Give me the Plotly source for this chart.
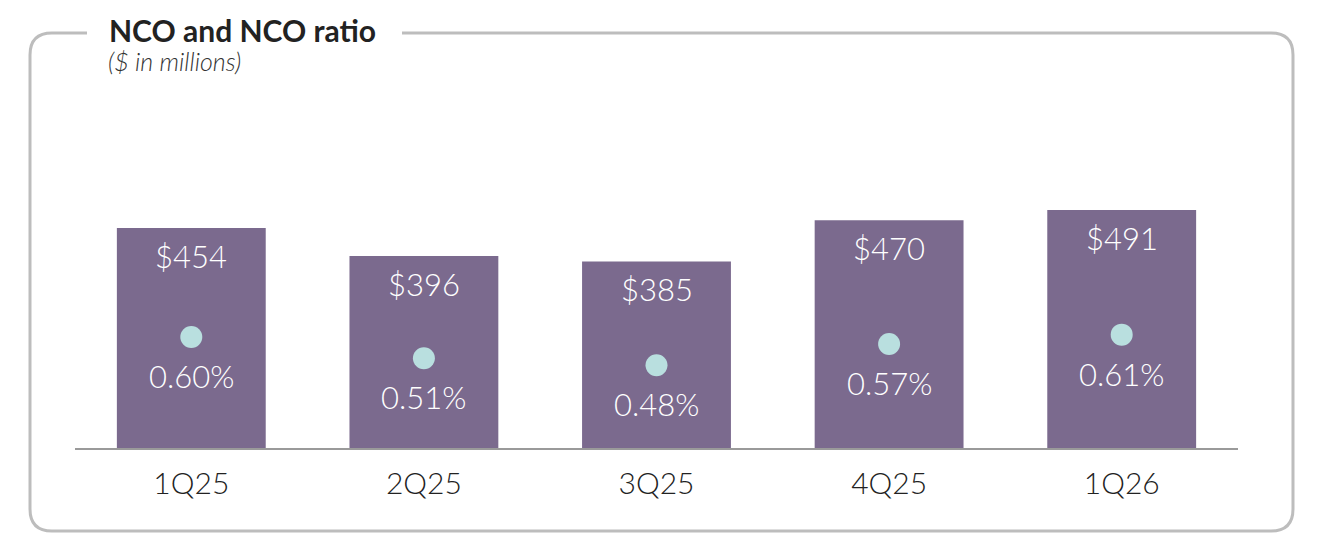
import plotly.graph_objects as go

quarters = ["1Q25", "2Q25", "3Q25", "4Q25", "1Q26"]
nco = [454, 396, 385, 470, 491]
nco_ratio = [0.60, 0.51, 0.48, 0.57, 0.61]

W, H = 1324, 556
L, R, T, B = 75, 86, 40, 108
PW, PH = W - L - R, H - T - B

BAR = "#7B6A8E"
DOT = "#B9DFDF"

def px(x):
    return (x - L) / PW

def py(y):
    return (H - B - y) / PH

fig = go.Figure()
fig.add_trace(go.Bar(x=quarters, y=nco, marker=dict(color=BAR, line=dict(width=0)),
                     hoverinfo="skip", showlegend=False))
fig.add_trace(go.Scatter(x=quarters, y=nco_ratio, yaxis="y2", mode="markers",
                         marker=dict(color=DOT, size=22), hoverinfo="skip", showlegend=False))

annotations = []
for q, v in zip(quarters, nco):
    annotations.append(dict(x=q, y=v, xref="x", yref="y", text=f"${v}", showarrow=False,
                            yshift=-28, font=dict(family="Lato", size=31, color="white", weight=300)))
for q, v in zip(quarters, nco_ratio):
    annotations.append(dict(x=q, y=v, xref="x", yref="y2", text=f"{v:.2f}%", showarrow=False,
                            yshift=-39, font=dict(family="Lato", size=31, color="white", weight=300)))

annotations.append(dict(x=px(107), y=py(30), xref="paper", yref="paper", xanchor="left", yanchor="middle",
                        text="<b>NCO and NCO ratio</b>", showarrow=False,
                        font=dict(family="Lato", size=30, color="#222222")))
annotations.append(dict(x=px(106), y=py(61), xref="paper", yref="paper", xanchor="left", yanchor="middle",
                        text="<i>($ in millions)</i>", showarrow=False,
                        font=dict(family="Lato", size=25, color="#333333", weight=300)))

# frame with gap for title
r = 22
x0, x1, y0, y1 = 30, 1293, 33, 531
pts = [
    ("M", 87, y0), ("L", x0 + r, y0), ("Q", x0, y0, x0, y0 + r), ("L", x0, y1 - r),
    ("Q", x0, y1, x0 + r, y1), ("L", x1 - r, y1), ("Q", x1, y1, x1, y1 - r),
    ("L", x1, y0 + r), ("Q", x1, y0, x1 - r, y0), ("L", 402, y0),
]
path = ""
for p in pts:
    cmd = p[0]
    coords = p[1:]
    s = []
    for i in range(0, len(coords), 2):
        s.append(f"{px(coords[i]):.5f},{py(coords[i+1]):.5f}")
    path += cmd + " " + " ".join(s) + " "

shapes = [dict(type="path", path=path.strip(), xref="paper", yref="paper",
               line=dict(color="#BDBDBD", width=3), layer="below")]

y_scale = 0.4846  # px per unit
y2_scale = 236.0
y2_min = 0.60 - (448 - 337) / y2_scale

fig.update_layout(
    width=W, height=H,
    margin=dict(l=L, r=R, t=T, b=B, pad=0),
    paper_bgcolor="white", plot_bgcolor="white",
    bargap=0.36,
    xaxis=dict(showline=True, linecolor="#9A9A9A", linewidth=2, showgrid=False, zeroline=False,
               ticks="", tickfont=dict(family="Lato", size=30, color="#222222", weight=300),
               ticklabelstandoff=8),
    yaxis=dict(range=[0, PH / y_scale], visible=False, showgrid=False, zeroline=False),
    yaxis2=dict(range=[y2_min, y2_min + PH / y2_scale], overlaying="y", visible=False,
                showgrid=False, zeroline=False),
    annotations=annotations,
    shapes=shapes,
)

fig.write_html("out.html")
